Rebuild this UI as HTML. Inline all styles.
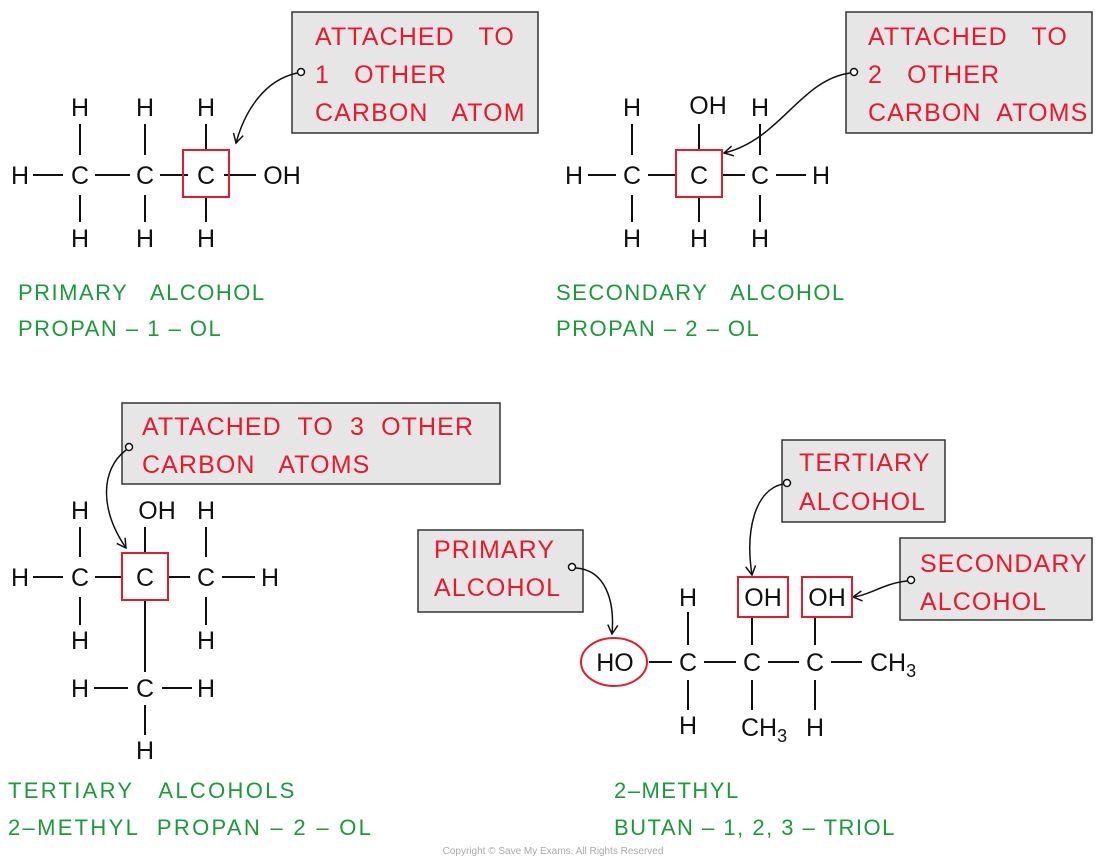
<!DOCTYPE html>
<html><head><meta charset="utf-8"><style>
html,body{margin:0;padding:0;background:#fff}
svg{display:block}
text{font-family:"Liberation Sans",sans-serif}
.m{font-size:25px;fill:#111}
.r{font-size:25px;fill:#e8192c;letter-spacing:1.1px}
.g{font-size:22px;fill:#1a9a3a;letter-spacing:1.5px}
.b{fill:#e6e6e6;stroke:#333;stroke-width:1.5}
.l{stroke:#111;stroke-width:2;fill:none}
.rb{stroke:#e8192c;stroke-width:2;fill:none}
.a{stroke:#111;stroke-width:1.5;fill:none}
</style></head><body>
<svg width="1100" height="864" viewBox="0 0 1100 864" xmlns="http://www.w3.org/2000/svg">
<defs><marker id="ar" markerWidth="12" markerHeight="12" refX="10" refY="6" orient="auto" markerUnits="userSpaceOnUse"><path d="M1,1 L10,6 L1,11" fill="none" stroke="#111" stroke-width="1.5"/></marker></defs>

<!-- Top-left -->
<rect class="b" x="292" y="12" width="246" height="121"/>
<text class="r" x="315" y="45">ATTACHED&#160;&#160; TO</text>
<text class="r" x="315" y="83">1&#160;&#160; OTHER</text>
<text class="r" x="315" y="121">CARBON&#160;&#160; ATOM</text>
<circle cx="301" cy="72" r="3.5" fill="#fff" stroke="#111" stroke-width="1.5"/>
<path class="a" d="M297,73 C265,80 245,110 236,143" marker-end="url(#ar)"/>
<g class="m" text-anchor="middle">
<text x="20" y="184">H</text><text x="80" y="184">C</text><text x="145" y="184">C</text><text x="206" y="184">C</text><text x="282" y="184">OH</text>
<text x="80" y="116">H</text><text x="145" y="116">H</text><text x="206" y="116">H</text>
<text x="80" y="247">H</text><text x="145" y="247">H</text><text x="206" y="247">H</text>
</g>
<path class="l" d="M33,175H63 M95,175H130 M160,175H188 M224,175H256 M80,124V155 M145,124V155 M206,124V150 M80,195V222 M145,195V222 M206,197V222"/>
<rect class="rb" x="183" y="150" width="46" height="47"/>
<text class="g" x="18" y="300">PRIMARY&#160;&#160; ALCOHOL</text>
<text class="g" x="18" y="336">PROPAN – 1 – OL</text>

<!-- Top-right -->
<rect class="b" x="846" y="12" width="246" height="121"/>
<text class="r" x="868" y="45">ATTACHED&#160;&#160; TO</text>
<text class="r" x="868" y="83">2&#160;&#160; OTHER</text>
<text class="r" x="868" y="121">CARBON&#160; ATOMS</text>
<circle cx="854" cy="72" r="3.5" fill="#fff" stroke="#111" stroke-width="1.5"/>
<path class="a" d="M850,73 C800,80 780,140 724,153" marker-end="url(#ar)"/>
<g class="m" text-anchor="middle">
<text x="574" y="184">H</text><text x="632" y="184">C</text><text x="699" y="184">C</text><text x="760" y="184">C</text><text x="821" y="184">H</text>
<text x="632" y="116">H</text><text x="708" y="114">OH</text><text x="760" y="116">H</text>
<text x="632" y="247">H</text><text x="699" y="247">H</text><text x="760" y="247">H</text>
</g>
<path class="l" d="M588,175H616 M648,175H676 M722,175H745 M776,175H806 M632,124V155 M699,124V150 M760,124V155 M632,195V222 M699,197V222 M760,195V222"/>
<rect class="rb" x="676" y="150" width="46" height="47"/>
<text class="g" x="556" y="300">SECONDARY&#160;&#160; ALCOHOL</text>
<text class="g" x="556" y="336">PROPAN – 2 – OL</text>

<!-- Bottom-left -->
<rect class="b" x="122" y="403" width="378" height="81"/>
<text class="r" x="142" y="435">ATTACHED&#160; TO&#160; 3&#160; OTHER</text>
<text class="r" x="142" y="473">CARBON&#160;&#160; ATOMS</text>
<circle cx="129" cy="447" r="3.5" fill="#fff" stroke="#111" stroke-width="1.5"/>
<path class="a" d="M126,450 C100,470 100,510 126,548" marker-end="url(#ar)"/>
<g class="m" text-anchor="middle">
<text x="20" y="586">H</text><text x="80" y="586">C</text><text x="145" y="586">C</text><text x="206" y="586">C</text><text x="270" y="586">H</text>
<text x="80" y="519">H</text><text x="157" y="519">OH</text><text x="206" y="519">H</text>
<text x="80" y="649">H</text><text x="206" y="649">H</text>
<text x="80" y="697">H</text><text x="145" y="697">C</text><text x="206" y="697">H</text>
<text x="145" y="759">H</text>
</g>
<path class="l" d="M33,577H63 M95,577H122 M168,577H190 M222,577H255 M80,527V557 M145,527V553 M206,527V557 M80,597V625 M206,597V625 M145,600V672 M94,688H128 M162,688H192 M145,705V735"/>
<rect class="rb" x="122" y="553" width="46" height="47"/>
<text class="g" x="8" y="798" style="letter-spacing:2.3px">TERTIARY&#160;&#160; ALCOHOLS</text>
<text class="g" x="8" y="835" style="letter-spacing:2.3px">2–METHYL&#160; PROPAN – 2 – OL</text>

<!-- Bottom-right -->
<rect class="b" x="418" y="530" width="165" height="82"/>
<text class="r" x="434" y="558">PRIMARY</text>
<text class="r" x="434" y="596">ALCOHOL</text>
<circle cx="572" cy="567" r="3.5" fill="#fff" stroke="#111" stroke-width="1.5"/>
<path class="a" d="M576,568 C605,570 615,600 612,634" marker-end="url(#ar)"/>
<rect class="b" x="782" y="440" width="163" height="82"/>
<text class="r" x="799" y="471">TERTIARY</text>
<text class="r" x="799" y="510">ALCOHOL</text>
<circle cx="787" cy="483" r="3.5" fill="#fff" stroke="#111" stroke-width="1.5"/>
<path class="a" d="M783,484 C755,490 745,530 752,575" marker-end="url(#ar)"/>
<rect class="b" x="900" y="538" width="192" height="82"/>
<text class="r" x="920" y="572">SECONDARY</text>
<text class="r" x="920" y="610">ALCOHOL</text>
<circle cx="911" cy="580" r="3.5" fill="#fff" stroke="#111" stroke-width="1.5"/>
<path class="a" d="M907,581 C885,583 870,595 853,597" marker-end="url(#ar)"/>
<g class="m" text-anchor="middle">
<text x="615" y="671">HO</text><text x="688" y="671">C</text><text x="752" y="671">C</text><text x="815" y="671">C</text>
<text x="688" y="606">H</text><text x="763" y="606">OH</text><text x="827" y="606">OH</text>
<text x="688" y="734">H</text><text x="815" y="736">H</text>
</g>
<text class="m" x="870" y="671">CH<tspan font-size="18" dy="6">3</tspan></text>
<text class="m" x="741" y="736">CH<tspan font-size="18" dy="6">3</tspan></text>
<path class="l" d="M649,662H672 M704,662H736 M768,662H799 M831,662H862 M688,612V645 M752,617V645 M815,617V645 M688,680V710 M752,680V710 M815,680V710"/>
<ellipse class="rb" cx="614" cy="662" rx="33" ry="24"/>
<rect class="rb" x="738" y="577" width="50" height="40"/>
<rect class="rb" x="802" y="577" width="50" height="40"/>
<text class="g" x="614" y="798">2–METHYL</text>
<text class="g" x="614" y="835">BUTAN – 1, 2, 3 – TRIOL</text>

<text x="553" y="854" text-anchor="middle" font-size="10" fill="#aaa">Copyright © Save My Exams. All Rights Reserved</text>
</svg>
</body></html>
